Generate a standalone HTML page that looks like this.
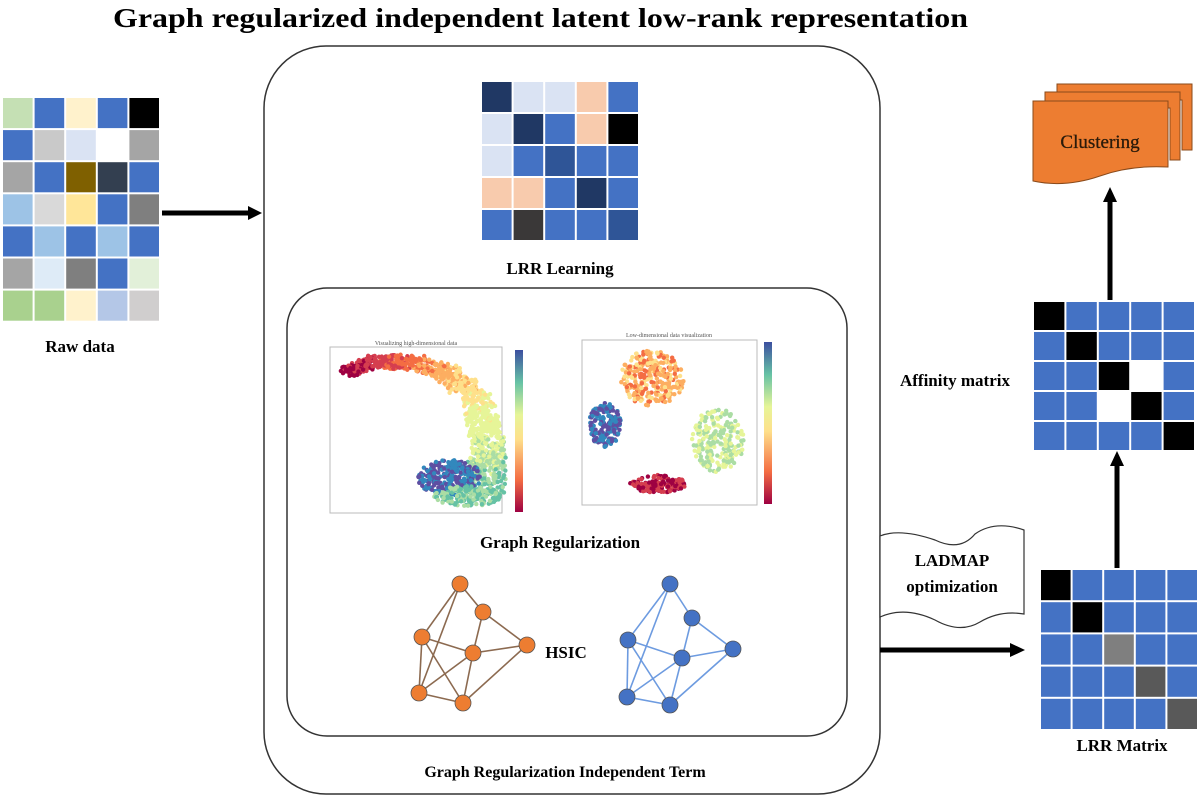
<!DOCTYPE html>
<html><head><meta charset="utf-8"><style>
html,body{margin:0;padding:0;background:#fff;}
svg{display:block;font-family:"Liberation Serif",serif;}
</style></head><body>
<svg id="s" width="1200" height="802" viewBox="0 0 1200 802" xmlns="http://www.w3.org/2000/svg">
<defs>
<linearGradient id="cb" x1="0" y1="1" x2="0" y2="0">
<stop offset="0" stop-color="#9e0142"/><stop offset="0.2" stop-color="#f46d43"/><stop offset="0.45" stop-color="#fee08b"/><stop offset="0.6" stop-color="#e6f598"/><stop offset="0.8" stop-color="#66c2a5"/><stop offset="1" stop-color="#3c4fa0"/>
</linearGradient>
</defs>
<text x="113" y="27" font-size="27" font-weight="bold" textLength="855" lengthAdjust="spacingAndGlyphs">Graph regularized independent latent low-rank representation</text>
<g id="raw"></g>
<text x="80" y="352" font-size="17" font-weight="bold" text-anchor="middle">Raw data</text>
<line x1="162" y1="213" x2="250" y2="213" stroke="#000" stroke-width="5"/>
<polygon points="248,206 262,213 248,220" fill="#000"/>
<rect x="264" y="46" width="616" height="748" rx="62" fill="none" stroke="#333" stroke-width="1.5"/>
<g id="lrr"></g>
<text x="560" y="274" font-size="17" font-weight="bold" text-anchor="middle">LRR Learning</text>
<rect x="287" y="288" width="560" height="448" rx="40" fill="none" stroke="#333" stroke-width="1.5"/>
<rect x="330" y="347" width="172" height="166" fill="#fff" stroke="#bbb"/>
<text x="416" y="345" font-size="6" text-anchor="middle" fill="#555">Visualizing high-dimensional data</text>
<rect x="515" y="350" width="8" height="162" fill="url(#cb)"/>
<rect x="582" y="340" width="175" height="165" fill="#fff" stroke="#bbb"/>
<text x="669" y="337" font-size="6" text-anchor="middle" fill="#555">Low-dimensional data visualization</text>
<rect x="764" y="342" width="8" height="162" fill="url(#cb)"/>
<g id="sc"></g>
<text x="560" y="548" font-size="17" font-weight="bold" text-anchor="middle">Graph Regularization</text>
<g id="g1"></g><g id="g2"></g>
<text x="566" y="658" font-size="17" font-weight="bold" text-anchor="middle">HSIC</text>
<text x="565" y="777" font-size="16" font-weight="bold" text-anchor="middle">Graph Regularization Independent Term</text>
<path d="M1057,84 H1192 V150 H1182 V100 H1057 Z" fill="#ed7d31" stroke="#8a4a1a"/>
<path d="M1045,92 H1180 V160 H1170 V108 H1045 Z" fill="#ed7d31" stroke="#8a4a1a"/>
<path d="M1033,101 H1168 V167 Q1130,165 1100,176 Q1065,188 1033,181 Z" fill="#ed7d31" stroke="#8a4a1a"/>
<text x="1100" y="148" font-size="19" text-anchor="middle" fill="#2a1a0a" stroke="#2a1a0a" stroke-width="0.3">Clustering</text>
<line x1="1110" y1="300" x2="1110" y2="200" stroke="#000" stroke-width="5"/>
<polygon points="1103,202 1110,187 1117,202" fill="#000"/>
<g id="aff"></g>
<text x="955" y="386" font-size="17" font-weight="bold" text-anchor="middle">Affinity matrix</text>
<line x1="1117" y1="568" x2="1117" y2="465" stroke="#000" stroke-width="5"/>
<polygon points="1110,466 1117,451 1124,466" fill="#000"/>
<g id="lm"></g>
<text x="1122" y="751" font-size="17" font-weight="bold" text-anchor="middle">LRR Matrix</text>
<path d="M880,536 Q900,528 935,540 Q960,552 975,534 Q995,520 1024,530 V614 Q1000,610 980,622 Q960,634 935,620 Q905,606 880,617 Z" fill="#fff" stroke="#333" stroke-width="1.2"/>
<text x="952" y="566" font-size="17" font-weight="bold" text-anchor="middle">LADMAP</text>
<text x="952" y="592" font-size="17" font-weight="bold" text-anchor="middle">optimization</text>
<line x1="880" y1="650" x2="1012" y2="650" stroke="#000" stroke-width="5"/>
<polygon points="1010,643 1025,650 1010,657" fill="#000"/>
</svg>
<script>
var NS="http://www.w3.org/2000/svg";
function el(p,t,a){var e=document.createElementNS(NS,t);for(var k in a)e.setAttribute(k,a[k]);p.appendChild(e);return e;}
function grid(id,x,y,cw,ch,cols){var g=document.getElementById(id);cols.forEach(function(r,i){r.forEach(function(c,j){el(g,'rect',{x:x+j*cw+1,y:y+i*ch+1,width:cw-2,height:ch-2,fill:c});});});}
var B='#4472c4',K='#000';
grid('raw',2,97,31.6,32.1,[
['#c5e0b4',B,'#fff2cc',B,K],
[B,'#c9c9c9','#dae3f3','#fff','#a5a5a5'],
['#a5a5a5',B,'#7f6000','#333f50',B],
['#9dc3e6','#d9d9d9','#ffe699',B,'#7f7f7f'],
[B,'#9dc3e6',B,'#9dc3e6',B],
['#a5a5a5','#deebf7','#7f7f7f',B,'#e2f0d9'],
['#a9d18e','#a9d18e','#fff2cc','#b4c7e7','#d0cece']]);
grid('lrr',481,81,31.6,32,[
['#203864','#dae3f3','#dae3f3','#f8cbad',B],
['#dae3f3','#203864',B,'#f8cbad',K],
['#dae3f3',B,'#2f5597',B,B],
['#f8cbad','#f8cbad',B,'#203864',B],
[B,'#3a3838',B,B,'#2f5597']]);
grid('aff',1033,301,32.4,30,[
[K,B,B,B,B],[B,K,B,B,B],[B,B,K,'#fff',B],[B,B,'#fff',K,B],[B,B,B,B,K]]);
grid('lm',1040,569,31.6,32.2,[
[K,B,B,B,B],[B,K,B,B,B],[B,B,'#7f7f7f',B,B],[B,B,B,'#595959',B],[B,B,B,B,'#595959']]);
var seed=7;function r(){seed=(seed*16807)%2147483647;return seed/2147483647;}
var cols=['#9e0142','#d53e4f','#f46d43','#fdae61','#fee08b','#e6f598','#abdda4','#66c2a5','#3288bd','#5e4fa2'];
var sc=document.getElementById('sc');
function dot(x,y,ci){el(sc,'circle',{cx:x,cy:y,r:2.2,fill:cols[Math.max(0,Math.min(9,ci))]});}
function blob(cx,cy,rx,ry,n,c0,c1){for(var i=0;i<n;i++){var a=r()*6.283,d=Math.sqrt(r());dot(cx+Math.cos(a)*rx*d,cy+Math.sin(a)*ry*d,Math.round(c0+(c1-c0)*r()));}}
// left: polyline path with thickness
var P=[[345,372,0],[375,362,1],[410,362,2],[445,372,3],[470,390,4],[482,415,5],[487,440,5],[488,465,6],[485,490,7]];
for(var i=0;i<1100;i++){var t=r()*(P.length-1);var k=Math.floor(t),f=t-k;var a=P[k],b=P[k+1];
var w=6+ (t/(P.length-1))*14;var x=a[0]+(b[0]-a[0])*f+(r()-.5)*w*2,y=a[1]+(b[1]-a[1])*f+(r()-.5)*w*1.6;dot(x,y,Math.round(a[2]+(b[2]-a[2])*f+(r()-.5)));}
blob(450,478,32,18,260,8,9);blob(468,496,34,10,160,6,7);
blob(652,378,32,28,320,2,4);blob(718,440,26,32,220,5,6);blob(605,425,16,22,180,8,9);blob(658,484,28,9,160,0,1);
function graph(id,nodes,col,line){var g=document.getElementById(id);var E=[[0,1],[0,2],[0,5],[1,4],[1,3],[2,3],[2,5],[2,6],[3,4],[3,5],[3,6],[4,6],[5,6]];
E.forEach(function(e){el(g,'line',{x1:nodes[e[0]][0],y1:nodes[e[0]][1],x2:nodes[e[1]][0],y2:nodes[e[1]][1],stroke:line,'stroke-width':1.6});});
nodes.forEach(function(n){el(g,'circle',{cx:n[0],cy:n[1],r:8,fill:col,stroke:'#555','stroke-width':0.8});});}
graph('g1',[[460,584],[483,612],[422,637],[473,653],[527,645],[419,693],[463,703]],'#ed7d31','#8c6a50');
graph('g2',[[670,584],[692,618],[628,640],[682,658],[733,649],[627,697],[670,705]],'#4472c4','#6d9be0');
</script>
</body></html>
